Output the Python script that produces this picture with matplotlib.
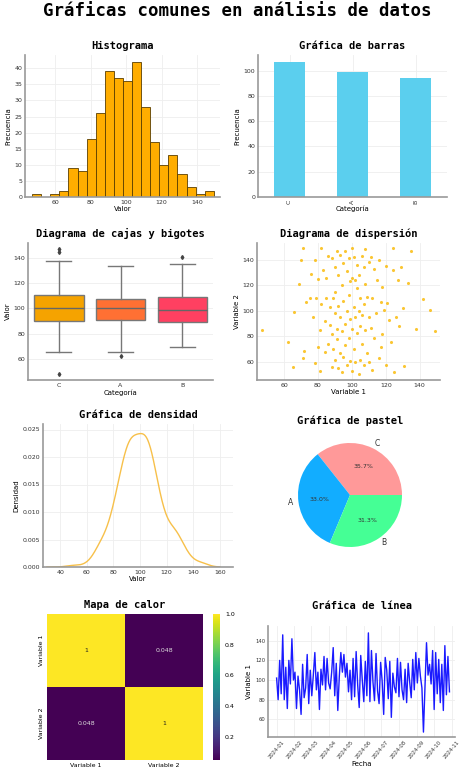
import numpy as np
import matplotlib
matplotlib.use("Agg")
import matplotlib.pyplot as plt
import matplotlib.dates as mdates

# ---------------- data ----------------
hist_edges_start, hist_edges_end, hist_nbins = 47.0, 149.5, 20
hist_counts = [1, 0, 1, 2, 9, 8, 18, 26, 39, 37, 36, 42, 28, 17, 10, 13, 7, 3, 1, 2]

bar_cats = ["C", "A", "B"]
bar_vals = [107, 99, 94]

box_cats = ["C", "A", "B"]
box_q1 = [90, 90.5, 89]
box_med = [100, 100, 99]
box_q3 = [111, 107.5, 109]
box_lo = [65.5, 65, 69]
box_hi = [138, 134, 135]
box_fliers = [[48, 145, 147], [62], [141]]
box_colors = ["#f5a300", "#ff7033", "#ff4061"]

sc_x = [47, 62, 65, 66, 69, 70, 71, 71, 72, 73, 75, 76, 77, 78, 78, 79, 80, 80, 81, 81,
        82, 82, 83, 84, 84, 85, 85, 86, 86, 87, 87, 88, 88, 88, 89, 89, 90, 90, 90, 90,
        91, 91, 91, 92, 92, 92, 93, 93, 93, 94, 94, 94, 95, 95, 95, 96, 96, 96, 97, 97,
        97, 98, 98, 98, 99, 99, 99, 100, 100, 100, 100, 101, 101, 101, 102, 102, 102, 103, 103, 103,
        104, 104, 104, 105, 105, 105, 106, 106, 106, 107, 107, 107, 108, 108, 108, 109, 109, 110, 110, 110,
        111, 111, 112, 112, 113, 113, 114, 115, 116, 116, 117, 117, 118, 118, 119, 120, 120, 121, 122, 123,
        124, 124, 125, 126, 127, 128, 129, 130, 131, 133, 135, 138, 142, 146, 149]
sc_y = [85, 76, 56, 99, 121, 140, 149, 63, 69, 107, 110, 129, 95, 140, 59, 110, 72, 125, 53, 85,
        149, 105, 132, 68, 92, 126, 110, 143, 74, 89, 103, 141, 56, 82, 110, 70, 134, 62, 98, 115,
        147, 78, 86, 128, 55, 104, 144, 67, 95, 120, 52, 84, 137, 108, 64, 147, 90, 73, 131, 100,
        58, 141, 112, 79, 123, 61, 94, 149, 126, 86, 53, 142, 103, 70, 124, 95, 60, 118, 83, 136,
        100, 51, 128, 110, 88, 62, 143, 97, 74, 134, 105, 58, 148, 121, 85, 111, 67, 138, 95, 60,
        142, 87, 110, 54, 133, 79, 98, 124, 140, 63, 107, 72, 119, 82, 101, 135, 58, 106, 93, 76,
        149, 132, 52, 95, 124, 88, 134, 102, 57, 122, 147, 86, 109, 101, 84]

pie_labels = ["C", "A", "B"]
pie_vals = [107, 99, 94]
pie_colors = ["#ff9999", "#12adff", "#45ff95"]

heat_labels = ["Variable 1", "Variable 2"]
heat_vals = [[1.0, 0.048], [0.048, 1.0]]

line_start = "2024-01-01"
line_step_hours = 64
line_vals = [102, 80, 120, 86, 146, 80, 113, 71, 120, 96, 142, 100, 108, 71, 104, 90, 65, 116, 82, 92,
             126, 76, 110, 84, 105, 128, 90, 108, 70, 111, 95, 124, 90, 122, 97, 91, 108, 133, 84, 117,
             69, 104, 128, 108, 126, 103, 117, 88, 110, 80, 122, 83, 129, 95, 72, 125, 100, 78, 119, 84,
             148, 78, 130, 98, 79, 127, 89, 76, 118, 99, 65, 123, 110, 81, 119, 62, 107, 93, 87, 122,
             83, 118, 90, 80, 111, 77, 117, 98, 82, 121, 90, 128, 97, 122, 104, 92, 47, 93, 138, 105,
             116, 96, 130, 70, 128, 86, 121, 77, 116, 69, 135, 85, 124, 88]

# ---------------- style ----------------
plt.rcParams['font.family'] = ['DejaVu Sans']
TITLE_FONT = dict(family='DejaVu Sans Mono', fontweight='bold', fontsize=7.5)
LBL = 5
TCK = 4.5
GRID = '#eeeeee'

def style(ax):
    for s in ['top', 'right']:
        ax.spines[s].set_visible(False)
    for s in ['left', 'bottom']:
        ax.spines[s].set_color('#999999')
        ax.spines[s].set_linewidth(1.2)
    ax.tick_params(length=0, labelsize=TCK, colors='#333333', pad=2)
    ax.grid(True, color=GRID, linewidth=0.6)
    ax.set_axisbelow(True)

fig = plt.figure(figsize=(4.74, 7.70), dpi=100)
fig.suptitle("Gráficas comunes en análisis de datos", family='DejaVu Sans Mono',
             fontweight='bold', fontsize=12.5, y=0.997)

def axes_px(x0, y0, x1, y1):
    W, H = 474, 770
    return fig.add_axes([x0 / W, 1 - y1 / H, (x1 - x0) / W, (y1 - y0) / H])

# Histogram
ax = axes_px(25, 55, 220, 197)
style(ax)
edges = np.linspace(hist_edges_start, hist_edges_end, hist_nbins + 1)
ax.bar(edges[:-1], hist_counts, width=np.diff(edges), align='edge', color='#ffad00',
       edgecolor='#5a3e00', linewidth=0.6)
ax.set_title("Histograma", **TITLE_FONT, pad=4)
ax.set_xlabel("Valor", fontsize=LBL, labelpad=1)
ax.set_ylabel("Frecuencia", fontsize=LBL, labelpad=2)
ax.set_xlim(43, 153)
ax.set_xticks([60, 80, 100, 120, 140])

# Bars
ax = axes_px(258, 55, 447, 197)
style(ax)
ax.bar(range(len(bar_cats)), bar_vals, width=0.5, color='#5bcfee')
ax.set_xticks(range(len(bar_cats)))
ax.set_xticklabels(bar_cats, rotation=90)
ax.set_xlim(-0.5, 2.5)
ax.set_title("Gráfica de barras", **TITLE_FONT, pad=4)
ax.set_xlabel("Categoría", fontsize=LBL, labelpad=1)
ax.set_ylabel("Frecuencia", fontsize=LBL, labelpad=2)

# Box
ax = axes_px(28, 243, 213, 380)
style(ax)
stats = []
for i in range(3):
    stats.append(dict(med=box_med[i], q1=box_q1[i], q3=box_q3[i], whislo=box_lo[i],
                      whishi=box_hi[i], fliers=box_fliers[i]))
bp = ax.bxp(stats, positions=range(3), widths=0.8, patch_artist=True,
            medianprops=dict(color='#666666', linewidth=1),
            whiskerprops=dict(color='#777777', linewidth=1),
            capprops=dict(color='#777777', linewidth=1),
            boxprops=dict(edgecolor='#777777', linewidth=1),
            flierprops=dict(marker='d', markersize=2, markerfacecolor='#444444',
                            markeredgecolor='#444444'))
for p, c in zip(bp['boxes'], box_colors):
    p.set_facecolor(c)
ax.set_xticks(range(3))
ax.set_xticklabels(box_cats)
ax.set_title("Diagrama de cajas y bigotes", **TITLE_FONT, pad=4)
ax.set_xlabel("Categoría", fontsize=LBL, labelpad=1)
ax.set_ylabel("Valor", fontsize=LBL, labelpad=2)
ax.set_yticks([60, 80, 100, 120, 140])
ax.grid(False, axis='x')

# Scatter
ax = axes_px(257, 243, 440, 380)
style(ax)
ax.scatter(sc_x, sc_y, s=5, color='#f9b800', alpha=0.8, linewidths=0)
ax.set_title("Diagrama de dispersión", **TITLE_FONT, pad=4)
ax.set_xlabel("Variable 1", fontsize=LBL, labelpad=1)
ax.set_ylabel("Variable 2", fontsize=LBL, labelpad=2)
ax.set_xlim(44, 152)
ax.set_ylim(46, 153)
ax.set_xticks([60, 80, 100, 120, 140])

# Density (gaussian KDE of histogram-derived values)
ax = axes_px(43, 424, 233, 567)
style(ax)
centers = (edges[:-1] + edges[1:]) / 2
vals = np.repeat(centers, hist_counts)
bw = vals.std(ddof=1) * len(vals) ** (-1 / 5)
xs = np.linspace(30, 160, 400)
dens = np.exp(-0.5 * ((xs[:, None] - vals[None, :]) / bw) ** 2).sum(1) / (len(vals) * bw * np.sqrt(2 * np.pi))
ax.plot(xs, dens, color='#f7c04a', linewidth=1)
ax.set_xlim(27, 170)
ax.set_ylim(0, 0.026)
ax.set_title("Gráfica de densidad", **TITLE_FONT, pad=4)
ax.set_xlabel("Valor", fontsize=LBL, labelpad=1)
ax.set_ylabel("Densidad", fontsize=LBL, labelpad=2)
ax.set_xticks([40, 60, 80, 100, 120, 140, 160])

# Pie
ax = axes_px(270, 430, 430, 560)
ax.pie(pie_vals, labels=pie_labels, colors=pie_colors, autopct='%1.1f%%',
       textprops=dict(fontsize=4.5, color='#333333'), labeldistance=1.1, pctdistance=0.6)
for t in ax.texts:
    if t.get_text() in pie_labels:
        t.set_fontsize(5.5)
ax.set_title("Gráfica de pastel", **TITLE_FONT, pad=4)
ax.set_aspect('equal')

# Heatmap
ax = axes_px(47, 614, 203, 760)
im = ax.imshow(heat_vals, cmap='viridis', aspect='auto', vmin=0.048, vmax=1.0)
for i in range(2):
    for j in range(2):
        v = heat_vals[i][j]
        ax.text(j, i, f"{v:g}", ha='center', va='center', fontsize=4.5,
                color='#222222' if v > 0.5 else '#dddddd')
ax.set_xticks([0, 1])
ax.set_xticklabels(heat_labels)
ax.set_yticks([0, 1])
ax.set_yticklabels(heat_labels, rotation=90, va='center')
ax.tick_params(length=0, labelsize=TCK, pad=2)
for s in ax.spines.values():
    s.set_visible(False)
ax.set_title("Mapa de calor", **TITLE_FONT, pad=4)
cax = axes_px(213, 614, 220, 760)
cb = fig.colorbar(im, cax=cax)
cb.outline.set_visible(False)
cb.ax.tick_params(length=0, labelsize=TCK)
cb.set_ticks([0.2, 0.4, 0.6, 0.8, 1.0])

# Line
ax = axes_px(268, 626, 455, 737)
style(ax)
dates = np.datetime64(line_start + "T00") + np.arange(len(line_vals)) * np.timedelta64(line_step_hours, 'h')
ax.plot(dates.astype('datetime64[s]').astype(object), line_vals, color='#1a1aff', linewidth=1)
ax.set_title("Gráfica de línea", **TITLE_FONT, pad=12)
ax.set_xlabel("Fecha", fontsize=LBL, labelpad=1)
ax.set_ylabel("Variable 1", fontsize=LBL, labelpad=2)
ax.xaxis.set_major_locator(mdates.MonthLocator())
ax.xaxis.set_major_formatter(mdates.DateFormatter('%Y-%m'))
ax.set_xlim(np.datetime64("2023-12-17").astype(object), np.datetime64("2024-11-07").astype(object))
ax.set_ylim(42, 155)
ax.tick_params(axis='x', labelrotation=50, labelsize=3.8)
ax.tick_params(axis='y', labelsize=3.8)
ax.set_yticks([60, 80, 100, 120, 140])

fig.savefig("out.png", dpi=100)
